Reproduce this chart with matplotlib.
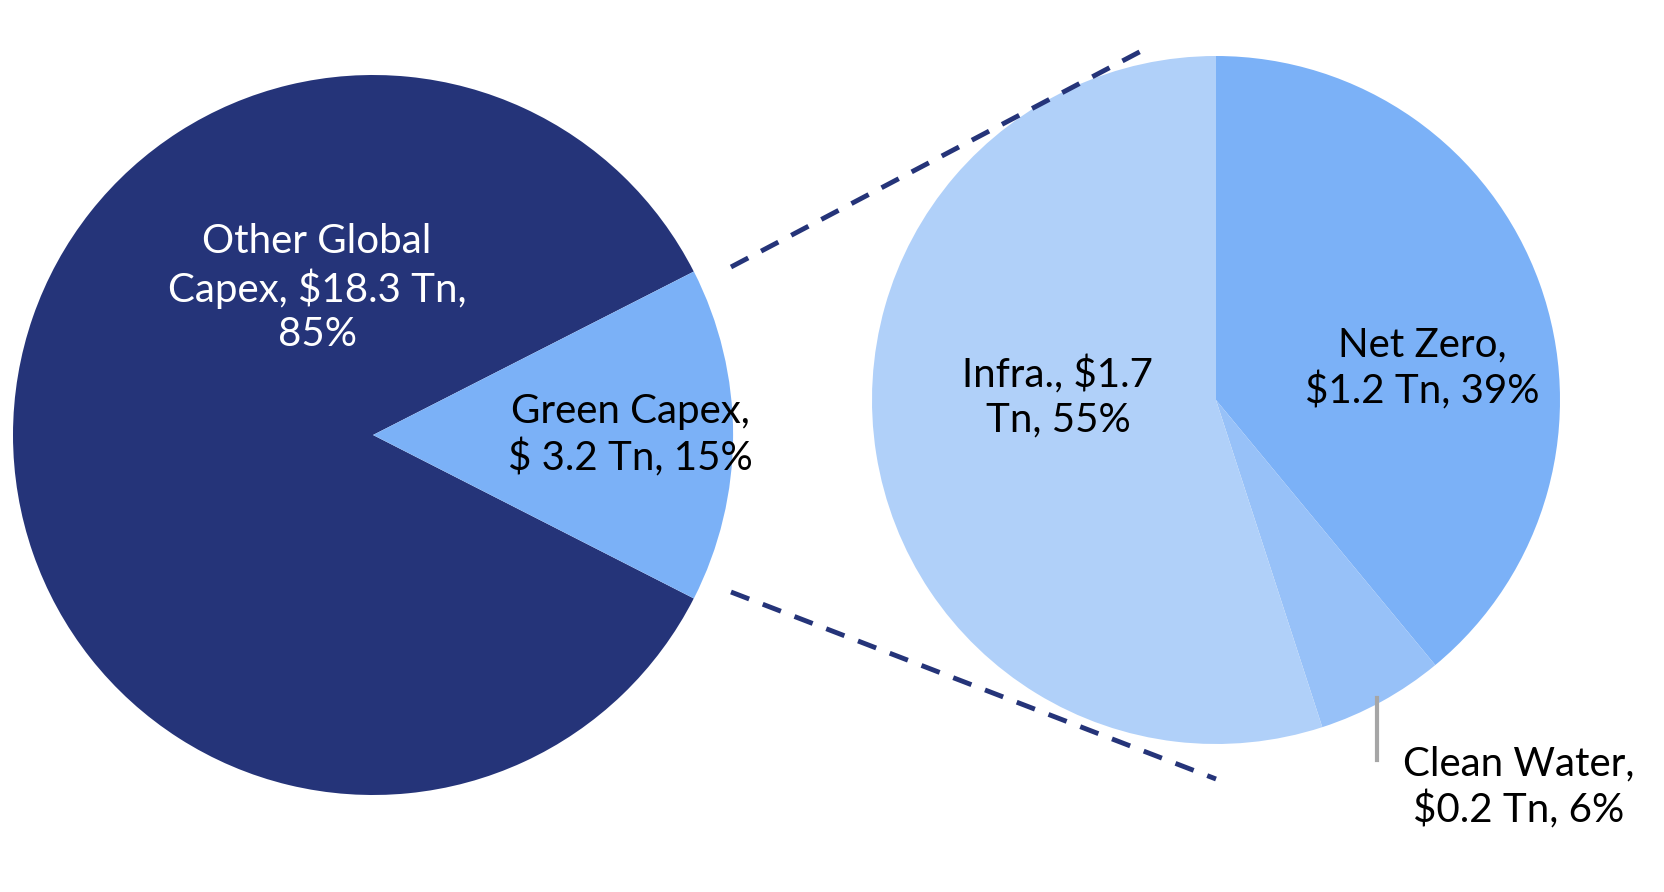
import matplotlib.pyplot as plt

# dati
capex_labels = ['Other Global\nCapex, $18.3 Tn,\n85%', 'Green Capex,\n$ 3.2 Tn, 15%']
capex_values = [85, 15]
green_labels = ['Net Zero,\n$1.2 Tn, 39%', 'Clean Water,\n$0.2 Tn, 6%', 'Infra., $1.7\nTn, 55%']
green_values = [39, 6, 55]

navy = '#253479'
plt.rcParams['font.family'] = ['Lato', 'DejaVu Sans']

fig = plt.figure(figsize=(16.64, 8.92), dpi=100)
ax = fig.add_axes([0, 0, 1, 1])
ax.set_xlim(0, 1664)
ax.set_ylim(0, 892)
ax.set_aspect('equal')
ax.axis('off')

# torta sinistra
ax.pie(capex_values, colors=[navy, '#7BB1F7'], startangle=27, center=(373, 457),
       radius=360, explode=[0, 35 / 360], wedgeprops={'linewidth': 0}, frame=True)
# torta destra
ax.pie(green_values, colors=['#7BB1F7', '#97C1F8', '#B0D0F9'], startangle=90,
       counterclock=False, center=(1216, 492), radius=344,
       wedgeprops={'linewidth': 0}, frame=True)
ax.set_xlim(0, 1664)
ax.set_ylim(0, 892)
ax.axis('off')

# linee tratteggiate
ax.plot([731, 1147], [625, 844], ls=(0, (4, 3)), color=navy, lw=3.5)
ax.plot([731, 1216], [300, 113], ls=(0, (4, 3)), color=navy, lw=3.5)
ax.plot([1377, 1377], [194, 132], color='#A6A6A6', lw=3)

fs = 29
ax.text(317, 604, capex_labels[0], color='white', fontsize=fs, ha='center', va='center', linespacing=1.25)
ax.text(630, 457, capex_labels[1], color='black', fontsize=fs, ha='center', va='center', linespacing=1.25)
ax.text(1058, 495, green_labels[2], color='black', fontsize=fs, ha='center', va='center', linespacing=1.25)
ax.text(1422, 524, green_labels[0], color='black', fontsize=fs, ha='center', va='center', linespacing=1.25)
ax.text(1519, 105, green_labels[1], color='black', fontsize=fs, ha='center', va='center', linespacing=1.25)

plt.savefig('out.png', dpi=100)
